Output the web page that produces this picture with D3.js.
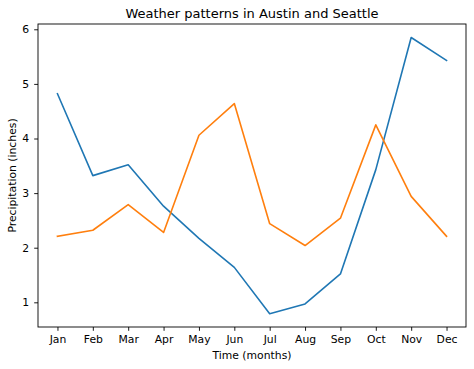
<!DOCTYPE html>
<html><head><meta charset="utf-8">
<script src="https://cdn.jsdelivr.net/npm/d3@7"></script>
<style>body{margin:0;background:#fff}svg{display:block}text{font-family:"DejaVu Sans",sans-serif;fill:#000}</style>
</head><body><svg id="c" width="474" height="369"></svg>
<script>
const months = ["Jan","Feb","Mar","Apr","May","Jun","Jul","Aug","Sep","Oct","Nov","Dec"];
const seattle = [4.82, 3.32, 3.52, 2.76, 2.17, 1.64, 0.79, 0.97, 1.52, 3.43, 5.85, 5.43];
const austin = [2.21, 2.32, 2.79, 2.28, 4.06, 4.64, 2.44, 2.04, 2.54, 4.25, 2.94, 2.21];
const yTicks = [1, 2, 3, 4, 5, 6];
const title = "Weather patterns in Austin and Seattle";
const xLabel = "Time (months)";
const yLabel = "Precipitation (inches)";

const svg = d3.select("#c");
const L = 38, R = 466, T = 24, B = 327;
const x = d3.scaleLinear().domain([-0.55, 11.55]).range([L, R]);
const y = d3.scaleLinear().domain([0.548, 6.097]).range([B, T]);
const fs = 10.8;

const xa = svg.append("g").attr("transform", `translate(0,${B})`)
  .call(d3.axisBottom(x).tickValues(d3.range(months.length)).tickFormat(i => months[i]).tickSizeOuter(0).tickSize(3.8).tickPadding(5));
const ya = svg.append("g").attr("transform", `translate(${L},0)`)
  .call(d3.axisLeft(y).tickValues(yTicks).tickFormat(d3.format("d")).tickSizeOuter(0).tickSize(3.8).tickPadding(5));
[xa, ya].forEach(a => {
  a.select(".domain").remove();
  a.selectAll("line").attr("stroke", "#000").attr("stroke-width", 0.9);
  a.selectAll("text").style("font-size", fs + "px").style("font-family", "DejaVu Sans").attr("fill", "#000");
});

const line = d3.line().x((d, i) => x(i)).y(d => y(d));
svg.append("path").datum(seattle).attr("d", line).attr("fill", "none").attr("stroke", "#1f77b4").attr("stroke-width", 1.6).attr("stroke-linejoin", "round").attr("stroke-linecap", "square");
svg.append("path").datum(austin).attr("d", line).attr("fill", "none").attr("stroke", "#ff7f0e").attr("stroke-width", 1.6).attr("stroke-linejoin", "round").attr("stroke-linecap", "square");

svg.append("rect").attr("x", L).attr("y", T).attr("width", R - L).attr("height", B - T)
  .attr("fill", "none").attr("stroke", "#000").attr("stroke-width", 0.9);

svg.append("text").attr("x", (L + R) / 2).attr("y", 18).attr("text-anchor", "middle").style("font-size", "13px").text(title);
svg.append("text").attr("x", (L + R) / 2).attr("y", 359).attr("text-anchor", "middle").style("font-size", fs + "px").text(xLabel);
svg.append("text").attr("transform", `translate(16,${(T + B) / 2}) rotate(-90)`).attr("text-anchor", "middle").style("font-size", fs + "px").text(yLabel);
</script></body></html>
